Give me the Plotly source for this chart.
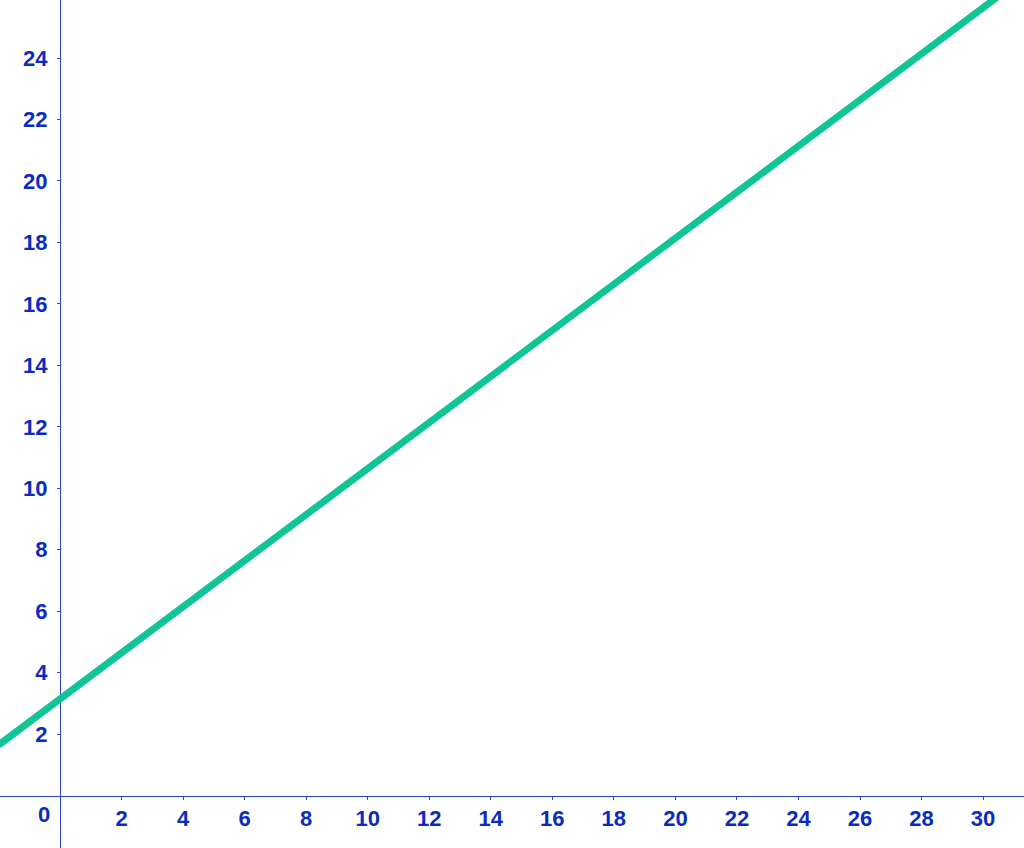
import plotly.graph_objects as go

# Data: straight line y ≈ 0.75x + 3.14
line_x = [-2, 32]
line_y = [1.64, 27.14]

x_ticks = [2, 4, 6, 8, 10, 12, 14, 16, 18, 20, 22, 24, 26, 28, 30]
y_ticks = [2, 4, 6, 8, 10, 12, 14, 16, 18, 20, 22, 24]

x_range = [-1.95, 31.33]
y_range = [-1.708, 25.89]

axis_color = "#2c44d6"
label_color = "#0b2bbf"
font = dict(family="Liberation Sans, Arial, sans-serif", size=22, color=label_color)

fig = go.Figure()
fig.add_trace(go.Scatter(x=line_x, y=line_y, mode="lines",
                         line=dict(color="#0fc596", width=7), hoverinfo="skip"))

xpos = (0 - y_range[0]) / (y_range[1] - y_range[0])
ypos = (0 - x_range[0]) / (x_range[1] - x_range[0])

fig.update_layout(
    width=1024, height=848,
    margin=dict(l=0, r=0, t=0, b=0, pad=0, autoexpand=False),
    paper_bgcolor="white", plot_bgcolor="white",
    showlegend=False,
    xaxis=dict(range=x_range, anchor="free", position=xpos, showgrid=False, zeroline=False,
               showline=True, linecolor=axis_color, linewidth=1, layer="below traces",
               tickmode="array", tickvals=x_ticks, ticktext=[f"<b>{v}</b>" for v in x_ticks],
               ticks="outside", ticklen=3, tickcolor=axis_color, tickfont=font,
               ticklabelstandoff=0, automargin=False),
    yaxis=dict(range=y_range, anchor="free", position=ypos, showgrid=False, zeroline=False,
               showline=True, linecolor=axis_color, linewidth=1, layer="below traces",
               tickmode="array", tickvals=y_ticks, ticktext=[f"<b>{v}</b>" for v in y_ticks],
               ticks="outside", ticklen=3, tickcolor=axis_color, tickfont=font,
               ticklabelstandoff=5, automargin=False),
)
fig.add_annotation(x=0, y=0, text="<b>0</b>", showarrow=False, font=font,
                   xshift=-16, yshift=-19)

fig.write_html("out.html", config={"displayModeBar": False},
               post_script="document.body.style.margin='0';document.body.style.overflow='hidden';")
